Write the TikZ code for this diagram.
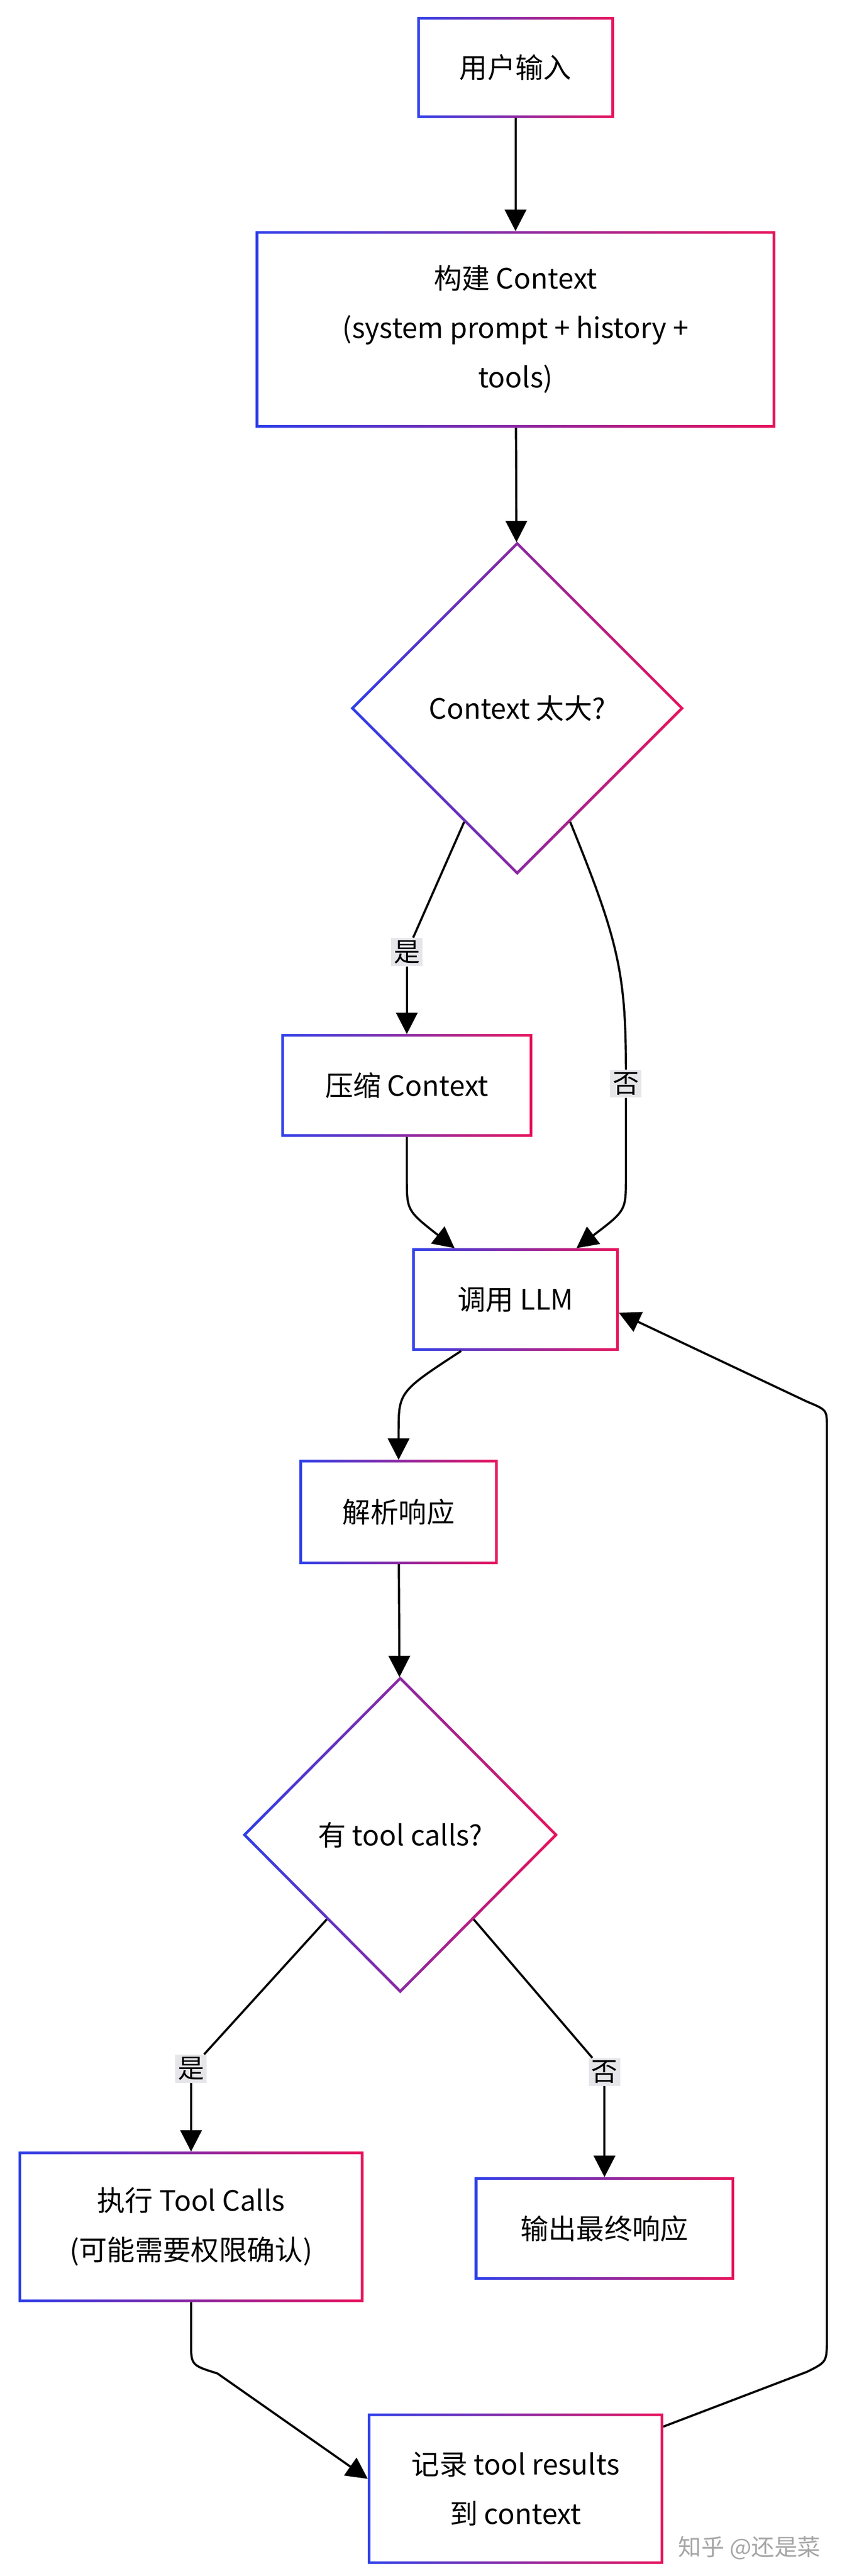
\documentclass[tikz,border=0pt]{standalone}
\usepackage{fontspec}
\setmainfont{Noto Sans CJK SC}
\usetikzlibrary{shapes.geometric,arrows.meta}
\definecolor{gblue}{HTML}{2E3FEA}
\definecolor{gpink}{HTML}{E8125C}
\definecolor{lblbg}{HTML}{E6E6EA}
\tikzset{
    box/.style={rectangle,fill=white,inner sep=0pt,align=center,font=\fontsize{17}{30}\selectfont},
    dia/.style={diamond,fill=white,inner sep=0pt,aspect=1,font=\fontsize{17}{20}\selectfont},
    lbl/.style={fill=lblbg,inner sep=1.5pt,font=\fontsize{16}{18}\selectfont},
    flow/.style={line width=1.3pt},
    arr/.style={flow,-{Triangle[length=13pt,width=13pt]}}
}
% gradient border for a box
\newcommand\gradbox[1]{%
    \shade[even odd rule,left color=gblue,right color=gpink]
        (#1.south west) rectangle (#1.north east)
        ([xshift=1.6pt,yshift=-1.6pt]#1.north west) rectangle ([xshift=-1.6pt,yshift=1.6pt]#1.south east);}
% gradient border for a diamond
\newcommand\graddia[1]{%
    \shade[even odd rule,left color=gblue,right color=gpink]
        (#1.north) -- (#1.east) -- (#1.south) -- (#1.west) -- cycle
        ([yshift=-2.3pt]#1.north) -- ([xshift=-2.3pt]#1.east) -- ([yshift=2.3pt]#1.south) -- ([xshift=2.3pt]#1.west) -- cycle;}
\begin{document}
\begin{tikzpicture}[x=1pt,y=-1pt]
    \useasboundingbox (0,0) rectangle (514,1564);
    % nodes
    \node[box,minimum width=119pt,minimum height=61pt] (user) at (313,41) {用户输入};
    \node[box,minimum width=315pt,minimum height=119pt] (build) at (313,200) {构建 Context\\(system prompt + history +\\tools)};
    \node[dia,minimum width=202pt,minimum height=202pt] (big) at (314,430) {Context 太大?};
    \node[box,minimum width=152pt,minimum height=62pt] (compress) at (247,659) {压缩 Context};
    \node[box,minimum width=125pt,minimum height=62pt] (llm) at (313,789) {调用 LLM};
    \node[box,minimum width=120pt,minimum height=63pt] (parse) at (242,918) {解析响应};
    \node[dia,minimum width=191pt,minimum height=192pt] (hascalls) at (243,1114) {有 tool calls?};
    \node[box,minimum width=209pt,minimum height=91pt] (exec) at (116,1352) {执行 Tool Calls\\(可能需要权限确认)};
    \node[box,minimum width=157pt,minimum height=62pt] (output) at (367,1353) {输出最终响应};
    \node[box,minimum width=179pt,minimum height=91pt] (record) at (313,1511) {记录 tool results\\到 context};
    \foreach \n in {user,build,compress,llm,parse,exec,output,record} {\gradbox{\n}}
    \graddia{big}
    \graddia{hascalls}
    % edge labels
    \node[lbl] (yes1) at (247,578) {是};
    \node[lbl] (no1) at (380,658) {否};
    \node[lbl] (yes2) at (116,1256) {是};
    \node[lbl] (no2) at (367,1258) {否};
    \node[text=gray!70,font=\fontsize{14}{16}\selectfont] (mark) at (455,1547) {知乎 @还是菜};
    % connectors
    \draw[arr] (user) -- (build);
    \draw[arr] (build) -- (big);
    \draw[flow] (big.-115) -- (yes1);
    \draw[arr] (yes1) -- (compress);
    \draw[flow] (big.-65) .. controls (375,570) and (380,590) .. (no1.north);
    \draw[arr] (no1.south) -- (380,715) .. controls (380,735) .. ([xshift=37pt]llm.north);
    \draw[arr] (compress.south) -- (247,715) .. controls (247,735) .. ([xshift=-37pt]llm.north);
    \draw[arr] ([xshift=-33pt]llm.south) .. controls (242,845) .. (242,870) -- (parse);
    \draw[arr] (parse) -- (hascalls);
    \draw[flow] (hascalls.-131) -- (yes2);
    \draw[arr] (yes2) -- (exec);
    \draw[flow] (hascalls.-49) -- (no2);
    \draw[arr] (no2) -- (output);
    \draw[arr] (exec.south) -- (116,1422) .. controls (116,1436) .. (132,1441) -- ([yshift=6pt]record.west);
    \draw[arr] ([yshift=-8pt]record.north east) -- (490,1440) .. controls (502,1434) .. (502,1420)
        -- (502,866) .. controls (502,856) .. (490,851) -- ([yshift=-8pt]llm.east);
\end{tikzpicture}
\end{document}
